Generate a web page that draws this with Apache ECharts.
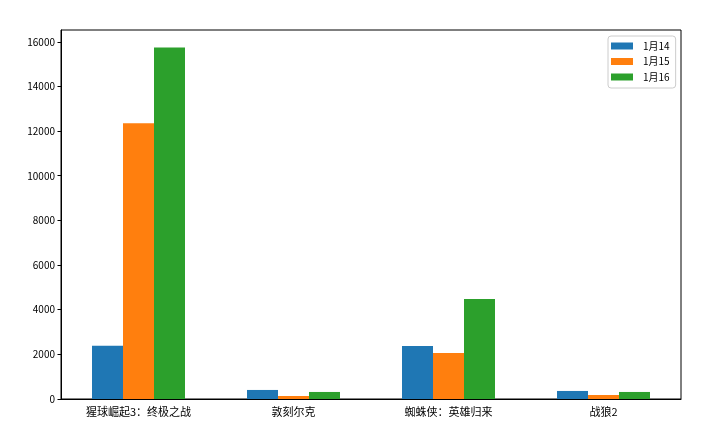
<!DOCTYPE html>
<html>
<head>
<meta charset="utf-8">
<script src="https://cdn.jsdelivr.net/npm/echarts@6/dist/echarts.min.js"></script>
<style>
  html, body { margin: 0; padding: 0; background: #fff; }
  #chart { width: 703px; height: 433px; }
</style>
</head>
<body>
<div id="chart"></div>
<script>
// 电影票房 (三天)
const movies = ['猩球崛起3：终极之战', '敦刻尔克', '蜘蛛侠：英雄归来', '战狼2']
const days = ['1月14', '1月15', '1月16']
const day14 = [2380, 405, 2375, 360]
const day15 = [12350, 135, 2060, 180]
const day16 = [15740, 315, 4480, 315]
const yTicks = [0, 2000, 4000, 6000, 8000, 10000, 12000, 14000, 16000]

const colors = ['#1f77b4', '#ff7f0e', '#2ca02c']
const font = "'Noto Sans CJK SC', 'DejaVu Sans', sans-serif"

let chart = echarts.init(document.getElementById('chart'), null, { renderer: 'canvas' })
let seriesData = [day14, day15, day16]
let ymax = Math.max(...day14, ...day15, ...day16) * 1.05

let option = {
    animation: false,
    backgroundColor: '#fff',
    color: colors,
    grid: {
        left: 61, right: 22, top: 30, bottom: 34,
        show: true, borderColor: '#000', borderWidth: 1
    },
    legend: {
        data: days,
        orient: 'vertical',
        left: 608, top: 36,
        padding: [4, 6, 5, 3],
        itemWidth: 22, itemHeight: 7, itemGap: 3.5,
        icon: 'rect',
        borderColor: '#ccc', borderWidth: 1, borderRadius: 3,
        backgroundColor: '#fff',
        textStyle: { fontFamily: font, fontSize: 10, color: '#000', lineHeight: 12, padding: [0, 0, 0, 5] }
    },
    xAxis: {
        type: 'category',
        data: movies,
        axisLine: { lineStyle: { color: '#000', width: 1 } },
        axisTick: { alignWithLabel: true, length: 3.5, lineStyle: { color: '#000' } },
        axisLabel: { fontFamily: font, fontSize: 11, color: '#000', margin: 7 },
        splitLine: { show: false }
    },
    yAxis: {
        type: 'value',
        min: 0, max: ymax, interval: 2000,
        axisLine: { show: true, lineStyle: { color: '#000', width: 1 } },
        axisTick: { show: true, length: 3.5, lineStyle: { color: '#000' } },
        axisLabel: {
            fontFamily: font, fontSize: 10, color: '#000', margin: 6,
            showMaxLabel: false,
            formatter: v => yTicks.includes(v) ? String(v) : ''
        },
        splitLine: { show: false }
    },
    series: days.map((d, i) => ({
        name: d,
        type: 'bar',
        data: seriesData[i],
        barWidth: 31,
        barGap: '0%',
        itemStyle: { color: colors[i] }
    }))
}

option && chart.setOption(option)
</script>
</body>
</html>
